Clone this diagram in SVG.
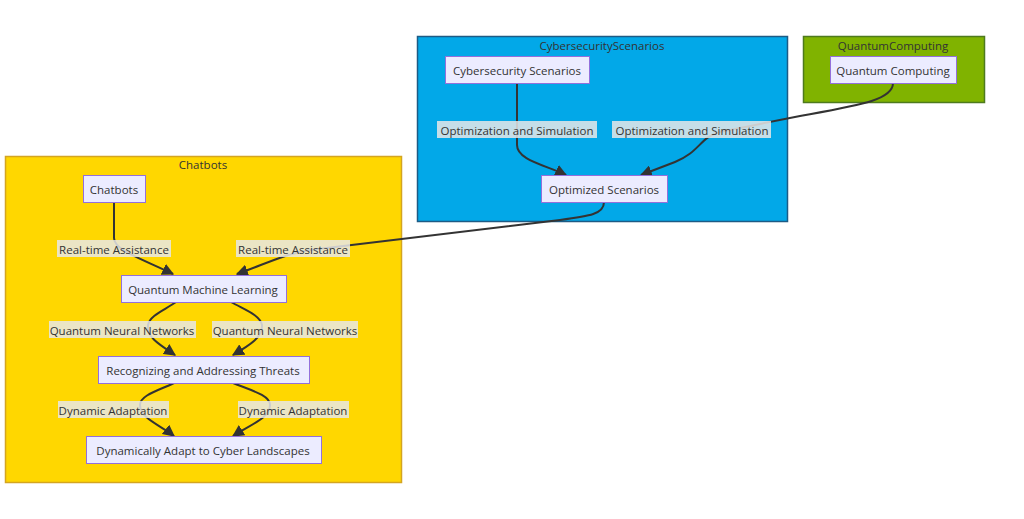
<svg xmlns="http://www.w3.org/2000/svg" width="1024" height="519" viewBox="0 0 1024 519">
<style>
.node rect{fill:#ECECFF;stroke:#9370DB;stroke-width:1}
text{font-family:"Open Sans","Liberation Sans",sans-serif;font-size:11.5px;fill:#333;text-anchor:middle;dominant-baseline:central}
.edge{fill:none;stroke:#333;stroke-width:2}
.lbl{fill:#e8e8e8;fill-opacity:0.85}
</style>
<defs>
<marker id="arrow" viewBox="0 0 10 10" refX="9" refY="5" markerUnits="userSpaceOnUse" markerWidth="12" markerHeight="12" orient="auto">
<path d="M0,0 L10,5 L0,10 z" fill="#333"/>
</marker>
</defs>
<rect width="1024" height="519" fill="#fff"/>
<g id="cluster-chatbots">
<rect x="5.5" y="156.5" width="396" height="326" fill="#FFD700" stroke="#D4A520" stroke-width="1.5"/>
<text x="203" y="164">Chatbots</text>
</g>
<g id="cluster-cyber">
<rect x="417.5" y="36.5" width="370" height="185" fill="#02A8E8" stroke="#1D5B85" stroke-width="1.5"/>
<text x="602" y="45">CybersecurityScenarios</text>
</g>
<g id="cluster-quantum">
<rect x="803.5" y="36.5" width="181" height="66" fill="#80B300" stroke="#4E7A1E" stroke-width="1.5"/>
<text x="893" y="45">QuantumComputing</text>
</g>
<g id="connectors">
<path class="edge" d="M517,83 L517,145 C517,160 545,165 566,175" marker-end="url(#arrow)"/>
<path class="edge" d="M893,83 C893,100 860,105 800,116 L720,132 C700,137 700,152 675,162 L641,175" marker-end="url(#arrow)"/>
<path class="edge" d="M604,202 C604,214 590,216 560,220 L310,250 C285,254 270,262 237,274" marker-end="url(#arrow)"/>
<path class="edge" d="M114,202 L114,238 C114,250 140,258 173,274" marker-end="url(#arrow)"/>
<path class="edge" d="M176,302 C165,310 150,315 148,325 C146,337 160,345 175,355" marker-end="url(#arrow)"/>
<path class="edge" d="M231,302 C245,310 260,315 262,325 C263,337 250,345 233,355" marker-end="url(#arrow)"/>
<path class="edge" d="M174,383 C160,390 140,395 140,405 C140,418 160,425 174,436" marker-end="url(#arrow)"/>
<path class="edge" d="M233,383 C250,390 270,395 270,405 C270,418 250,425 233,436" marker-end="url(#arrow)"/>
<g id="edge-labels">
<rect class="lbl" x="437" y="121" width="160" height="17"/><text x="517" y="130">Optimization and Simulation</text>
<rect class="lbl" x="612" y="121" width="159" height="17"/><text x="692" y="130">Optimization and Simulation</text>
<rect class="lbl" x="236" y="240" width="114" height="17"/><text x="293" y="249">Real-time Assistance</text>
<rect class="lbl" x="57" y="240" width="114" height="17"/><text x="114" y="249">Real-time Assistance</text>
<rect class="lbl" x="49" y="321" width="147" height="17"/><text x="122" y="330">Quantum Neural Networks</text>
<rect class="lbl" x="212" y="321" width="146" height="17"/><text x="285" y="330">Quantum Neural Networks</text>
<rect class="lbl" x="58" y="401" width="111" height="17"/><text x="113" y="410">Dynamic Adaptation</text>
<rect class="lbl" x="238" y="401" width="111" height="17"/><text x="293" y="410">Dynamic Adaptation</text>
</g>
</g>
<g id="node-cyber" class="node"><rect x="445.5" y="56.5" width="144" height="27"/><text x="517" y="70">Cybersecurity Scenarios</text></g>
<g id="node-optimized" class="node"><rect x="541.5" y="175.5" width="126" height="27"/><text x="604" y="189">Optimized Scenarios</text></g>
<g id="node-quantum" class="node"><rect x="830.5" y="56.5" width="126" height="27"/><text x="893" y="70">Quantum Computing</text></g>
<g id="node-chatbots" class="node"><rect x="83.5" y="175.5" width="62" height="27"/><text x="114" y="189">Chatbots</text></g>
<g id="node-qml" class="node"><rect x="121.5" y="275.5" width="165" height="27"/><text x="203" y="289">Quantum Machine Learning</text></g>
<g id="node-rat" class="node"><rect x="98.5" y="356.5" width="211" height="27"/><text x="203" y="370">Recognizing and Addressing Threats</text></g>
<g id="node-dacl" class="node"><rect x="86.5" y="436.5" width="235" height="27"/><text x="203" y="450">Dynamically Adapt to Cyber Landscapes</text></g>
</svg>
